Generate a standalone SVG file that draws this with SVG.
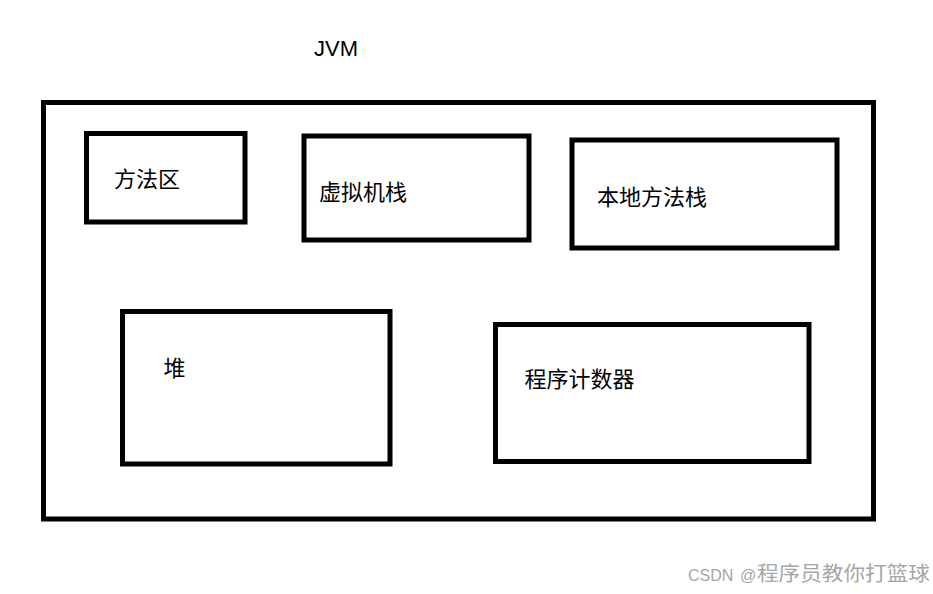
<svg xmlns="http://www.w3.org/2000/svg" width="933" height="594" viewBox="0 0 933 594">
<style>
.box{fill:#fff;stroke:#000;stroke-width:5}
.t{font-family:"Liberation Sans","Noto Sans CJK SC",sans-serif;font-size:22px;fill:#000}
.wm{font-family:"Liberation Sans","Noto Sans CJK SC",sans-serif;font-size:16px;fill:#a6a6a6}
</style>
<rect width="933" height="594" fill="#fff"/>
<text class="t" x="314" y="56">JVM</text>
<g id="jvm"><rect class="box" x="43.5" y="102.5" width="830" height="416.5"/></g>
<g id="method-area"><rect class="box" x="86.5" y="133.5" width="158.5" height="88.5"/><text class="t" x="114" y="187">方法区</text></g>
<g id="vm-stack"><rect class="box" x="304" y="136" width="225" height="104"/><text class="t" x="319" y="200">虚拟机栈</text></g>
<g id="native-stack"><rect class="box" x="572" y="140" width="265" height="108"/><text class="t" x="597" y="205">本地方法栈</text></g>
<g id="heap"><rect class="box" x="122.5" y="311.5" width="267.5" height="152.5"/><text class="t" x="163.5" y="376">堆</text></g>
<g id="pc"><rect class="box" x="495.5" y="324.5" width="313.5" height="137"/><text class="t" x="524.5" y="387">程序计数器</text></g>
<g id="connectors"></g>
<text class="wm" x="688" y="581">CSDN <tspan x="740">@</tspan><tspan x="757" font-size="20" textLength="173" lengthAdjust="spacingAndGlyphs">程序员教你打篮球</tspan></text>
</svg>
